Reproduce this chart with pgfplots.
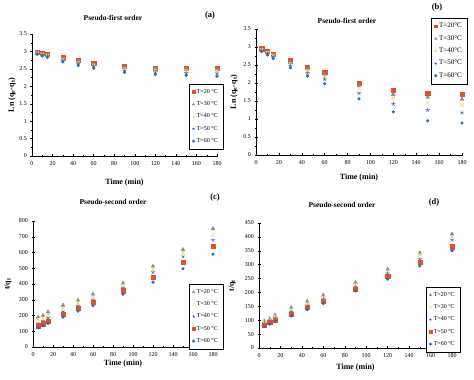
\documentclass[border=0pt]{standalone}
\usepackage{fontspec}
\setmainfont{Liberation Serif}
\usepackage{pgfplots}
\pgfplotsset{compat=1.18}
\definecolor{c20}{RGB}{226,82,40}
\definecolor{c30}{RGB}{135,135,150}
\definecolor{c40}{RGB}{245,222,120}
\definecolor{c50}{RGB}{50,80,170}
\definecolor{c60}{RGB}{40,110,185}
\pgfplotsset{
  kin/.style={
    scale only axis,
    axis lines=left,
    axis line style={-, thin},
    xmin=0, xmax=180, xtick={0,20,...,180},
    minor x tick num=1, minor y tick num=1,
    tick align=center,
    tick style={black, thin},
    major tick length=3pt, minor tick length=2pt,
    tick label style={font=\fontsize{6}{6.5}\selectfont},
    /pgf/number format/assume math mode=true,
    /pgf/number format/fixed,
    label style={font=\bfseries\fontsize{8}{9}\selectfont},
    legend style={font=\fontsize{6}{6.5}\selectfont, draw=black, thin, row sep=2.8pt, inner xsep=3pt, inner ysep=3pt, legend cell align=left},
    legend image post style={mark size=1.3pt},
    legend cell align=left,
    only marks,
    clip=false,
  },
  s20/.style={mark=square*, mark size=2.1pt, color=c20},
  s30/.style={mark=triangle*, mark size=2.2pt, color=c30},
  s40/.style={mark=x, mark size=2.4pt, color=c40, thick},
  s50/.style={mark=star, mark size=2.3pt, color=c50},
  s60/.style={mark=*, mark size=1.4pt, color=c60},
}
\begin{document}
\begin{tikzpicture}[x=1pt,y=1pt]
\useasboundingbox (0,0) rectangle (474,380);
\tikzset{ttl/.style={font=\bfseries\fontsize{7.5}{8}\selectfont}}
\node[ttl] at (113,362) {Pseudo-first order};
\node[ttl, font=\bfseries\fontsize{8.5}{9}\selectfont] at (210,365) {(a)};
\node[ttl] at (347,359) {Pseudo-first order};
\node[ttl, font=\bfseries\fontsize{8.5}{9}\selectfont] at (437,373) {(b)};
\node[ttl] at (113,178) {Pseudo-second order};
\node[ttl, font=\bfseries\fontsize{8.5}{9}\selectfont] at (215,183) {(c)};
\node[ttl] at (342,175) {Pseudo-second order};
\node[ttl, font=\bfseries\fontsize{8.5}{9}\selectfont] at (434,178) {(d)};

% (a)
\begin{axis}[kin, at={(32pt,224pt)}, anchor=south west, width=185pt, height=122pt,
  ymin=0, ymax=3.5, ytick={0,0.5,...,3.5},
  xlabel={Time (min)}, ylabel={Ln (q\textsubscript{e}-q\textsubscript{t})},
  xlabel style={at={(axis description cs:0.5,-0.22)}, anchor=center},
  ylabel style={at={(axis description cs:-0.108,0.5)}, anchor=center},
  legend style={at={(axis description cs:1.032,0.59)}, anchor=north east}]
\addplot[s20] coordinates {(5,2.98)(10,2.95)(15,2.92)(30,2.82)(45,2.75)(60,2.67)(90,2.57)(120,2.53)(150,2.51)(180,2.51)};
\addplot[s30] coordinates {(5,2.96)(10,2.93)(15,2.90)(30,2.79)(45,2.72)(60,2.63)(90,2.53)(120,2.50)(150,2.48)(180,2.47)};
\addplot[s40] coordinates {(5,2.95)(10,2.91)(15,2.88)(30,2.77)(45,2.68)(60,2.60)(90,2.50)(120,2.46)(150,2.44)(180,2.43)};
\addplot[s50] coordinates {(5,2.94)(10,2.90)(15,2.86)(30,2.74)(45,2.65)(60,2.57)(90,2.45)(120,2.40)(150,2.38)(180,2.37)};
\addplot[s60] coordinates {(5,2.92)(10,2.87)(15,2.83)(30,2.70)(45,2.60)(60,2.52)(90,2.40)(120,2.34)(150,2.31)(180,2.29)};
\legend{T=20 °C, T=30 °C, T=40 °C, T=50 °C, T=60 °C}
\end{axis}

% (b)
\begin{axis}[kin, at={(256pt,225pt)}, anchor=south west, width=206pt, height=126pt,
  ymin=0, ymax=3.5, ytick={0,0.5,...,3.5},
  xlabel={Time (min)}, ylabel={Ln (q\textsubscript{e}-q\textsubscript{t})},
  xlabel style={at={(axis description cs:0.5,-0.18)}, anchor=center},
  ylabel style={at={(axis description cs:-0.107,0.5)}, anchor=center},
  legend style={at={(axis description cs:1.024,1.087)}, anchor=north east, font=\fontsize{7}{7.5}\selectfont, row sep=2.2pt}]
\addplot[s20] coordinates {(5,2.95)(10,2.88)(15,2.80)(30,2.62)(45,2.44)(60,2.30)(90,2.00)(120,1.79)(150,1.71)(180,1.69)};
\addplot[s30] coordinates {(5,2.93)(10,2.86)(15,2.78)(30,2.57)(45,2.39)(60,2.23)(90,1.92)(120,1.68)(150,1.60)(180,1.55)};
\addplot[s40] coordinates {(5,2.92)(10,2.84)(15,2.76)(30,2.53)(45,2.34)(60,2.17)(90,1.85)(120,1.58)(150,1.45)(180,1.38)};
\addplot[s50] coordinates {(5,2.90)(10,2.82)(15,2.73)(30,2.48)(45,2.28)(60,2.10)(90,1.72)(120,1.42)(150,1.25)(180,1.18)};
\addplot[s60] coordinates {(5,2.88)(10,2.78)(15,2.68)(30,2.42)(45,2.19)(60,1.98)(90,1.56)(120,1.20)(150,0.95)(180,0.89)};
\legend{T=20°C, T=30°C, T=40°C, T=50°C, T=60°C}
\end{axis}

% (c)
\begin{axis}[kin, at={(33pt,33pt)}, anchor=south west, width=180pt, height=126pt,
  ymin=0, ymax=800, ytick={0,100,...,800}, minor y tick num=0,
  xlabel={Time (min)}, ylabel={t/q\textsubscript{t}},
  xlabel style={at={(axis description cs:0.5,-0.13)}, anchor=center},
  ylabel style={at={(axis description cs:-0.14,0.5)}, anchor=center},
  legend style={at={(axis description cs:1.056,0.5)}, anchor=north east}]
\addplot[s30] coordinates {(5,190)(10,200)(15,222)(30,265)(45,296)(60,334)(90,406)(120,512)(150,618)(180,751)};
\addplot[s40] coordinates {(5,175)(10,185)(15,205)(30,245)(45,280)(60,318)(90,392)(120,495)(150,600)(180,712)};
\addplot[s50] coordinates {(5,150)(10,165)(15,185)(30,225)(45,262)(60,300)(90,375)(120,475)(150,575)(180,680)};
\addplot[s20] coordinates {(5,135)(10,148)(15,162)(30,208)(45,248)(60,285)(90,358)(120,445)(150,540)(180,640)};
\addplot[s60] coordinates {(5,122)(10,135)(15,150)(30,190)(45,228)(60,262)(90,335)(120,412)(150,497)(180,590)};
\legend{T=20 °C, T=30 °C, T=40 °C, T=50 °C, T=60 °C}
\end{axis}

% (d)
\begin{axis}[kin, at={(259pt,32pt)}, anchor=south west, width=193pt, height=125pt,
  ymin=0, ymax=450, ytick={0,50,...,450}, minor y tick num=0,
  xlabel={Time (min)}, ylabel={t/q\textsubscript{t}},
  xlabel style={at={(axis description cs:0.5,-0.16)}, anchor=center},
  ylabel style={at={(axis description cs:-0.14,0.5)}, anchor=center},
  legend style={at={(axis description cs:1.041,0.488)}, anchor=north east}]
\addplot[s30] coordinates {(5,97)(10,105)(15,118)(30,145)(45,168)(60,190)(90,235)(120,283)(150,342)(180,410)};
\addplot[s40] coordinates {(5,93)(10,102)(15,113)(30,138)(45,160)(60,182)(90,228)(120,275)(150,335)(180,400)};
\addplot[s50] coordinates {(5,88)(10,97)(15,107)(30,130)(45,153)(60,175)(90,220)(120,268)(150,320)(180,390)};
\addplot[s20] coordinates {(5,82)(10,92)(15,100)(30,123)(45,148)(60,168)(90,213)(120,258)(150,308)(180,365)};
\addplot[s60] coordinates {(5,78)(10,86)(15,95)(30,115)(45,138)(60,160)(90,205)(120,248)(150,295)(180,350)};
\legend{T=20 °C, T=30 °C, T=40 °C, T=50 °C, T=60 °C}
\end{axis}
\end{tikzpicture}
\end{document}
